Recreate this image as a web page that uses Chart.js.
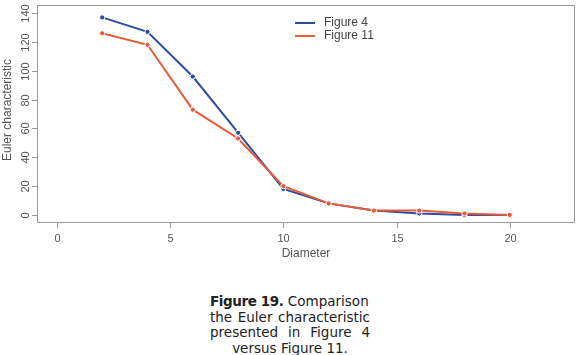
<!DOCTYPE html>
<html>
<head>
<meta charset="utf-8">
<script src="https://cdn.jsdelivr.net/npm/chart.js@4/dist/chart.umd.min.js"></script>
<style>
  body { margin: 0; background: #fff; }
  #wrap { position: relative; width: 580px; height: 270px; }
  #caption {
    position: absolute; left: 210px; top: 294px; width: 160px;
    font-family: "DejaVu Sans", Verdana, sans-serif; font-size: 13.5px; line-height: 15.6px;
    color: #222;
  }
  #caption div { text-align: justify; text-align-last: justify; }
  #caption .l1 { white-space: nowrap; text-align-last: auto; }
  #caption .l1 b { letter-spacing: -0.4px; }
  #caption .last { text-align-last: center; }
</style>
</head>
<body>
<div id="wrap"><canvas id="myChart" width="580" height="270"></canvas></div>
<div id="caption">
  <div class="l1"><b>Figure 19.</b> Comparison</div>
  <div>the Euler characteristic</div>
  <div>presented in Figure 4</div>
  <div class="last">versus Figure 11.</div>
</div>
<script>
// データ
var diameters = [2, 4, 6, 8, 10, 12, 14, 16, 18, 20];
var figure4 = [137, 127, 96, 57, 18, 8, 3, 1, 0, 0];
var figure11 = [126, 118, 73, 53, 20, 8, 3, 3, 1, 0];
var xTicks = [0, 5, 10, 15, 20];
var yTicks = [0, 20, 40, 60, 80, 100, 120, 140];
var seriesNames = ["Figure 4", "Figure 11"];
var blue = "#2f4d9e";
var red = "#e85a3a";

function toPoints(ys) {
  var pts = [];
  for (var i = 0; i < diameters.length; ++i) {
    pts.push({ x: diameters[i], y: ys[i] });
  }
  return pts;
}

// 軸・枠・凡例を R 風に描くプラグイン
var rAxes = {
  id: "rAxes",
  afterDraw: function(chart) {
    var ctx = chart.ctx;
    var a = chart.chartArea;
    var xs = chart.scales.x, ys = chart.scales.y;
    ctx.save();
    ctx.strokeStyle = "#9a9a9a";
    ctx.lineWidth = 1;
    ctx.strokeRect(a.left + 0.5, a.top + 0.5, a.right - a.left - 1, a.bottom - a.top - 1);

    ctx.fillStyle = "#555";
    ctx.font = "11px 'Liberation Sans', Arial, sans-serif";
    // x ticks
    ctx.textAlign = "center";
    ctx.textBaseline = "middle";
    for (var i = 0; i < xTicks.length; ++i) {
      var px = Math.round(xs.getPixelForValue(xTicks[i])) + 0.5;
      ctx.beginPath();
      ctx.moveTo(px, a.bottom);
      ctx.lineTo(px, a.bottom + 5);
      ctx.stroke();
      ctx.fillText(String(xTicks[i]), px, a.bottom + 16);
    }
    // y ticks (縦書き)
    for (var j = 0; j < yTicks.length; ++j) {
      var py = Math.round(ys.getPixelForValue(yTicks[j])) + 0.5;
      ctx.beginPath();
      ctx.moveTo(a.left, py);
      ctx.lineTo(a.left - 5, py);
      ctx.stroke();
      ctx.save();
      ctx.translate(a.left - 11, py);
      ctx.rotate(-Math.PI / 2);
      ctx.fillText(String(yTicks[j]), 0, 0);
      ctx.restore();
    }
    // axis titles
    ctx.font = "12px 'Liberation Sans', Arial, sans-serif";
    ctx.fillText("Diameter", (a.left + a.right) / 2, a.bottom + 31);
    ctx.save();
    ctx.translate(8, (a.top + a.bottom) / 2 - 4);
    ctx.rotate(-Math.PI / 2);
    ctx.fillText("Euler characteristic", 0, 0);
    ctx.restore();

    // legend
    var cols = [blue, red];
    ctx.textAlign = "left";
    ctx.fillStyle = "#444";
    for (var k = 0; k < seriesNames.length; ++k) {
      var ly = 23 + k * 13;
      ctx.strokeStyle = cols[k];
      ctx.lineWidth = 2;
      ctx.beginPath();
      ctx.moveTo(295, ly);
      ctx.lineTo(315, ly);
      ctx.stroke();
      ctx.fillText(seriesNames[k], 324, ly);
    }
    ctx.restore();
  }
};

var ctx = document.getElementById("myChart");
var myChart = new Chart(ctx, {
  type: "line",
  data: {
    datasets: [
      { label: seriesNames[0], data: toPoints(figure4), borderColor: blue, backgroundColor: blue,
        borderWidth: 2, pointRadius: 2.6, pointBorderColor: "#fff", pointBorderWidth: 1, order: 2 },
      { label: seriesNames[1], data: toPoints(figure11), borderColor: red, backgroundColor: red,
        borderWidth: 2, pointRadius: 2.6, pointBorderColor: "#fff", pointBorderWidth: 1, order: 1 }
    ]
  },
  options: {
    responsive: false,
    animation: false,
    layout: { padding: { left: 37, right: 1, top: 1, bottom: 47 } },
    plugins: { legend: { display: false }, tooltip: { enabled: false } },
    scales: {
      x: { type: "linear", display: false, min: -0.88, max: 22.88 },
      y: { type: "linear", display: false, min: -5.6, max: 145.6 }
    }
  },
  plugins: [rAxes]
});
</script>
</body>
</html>
